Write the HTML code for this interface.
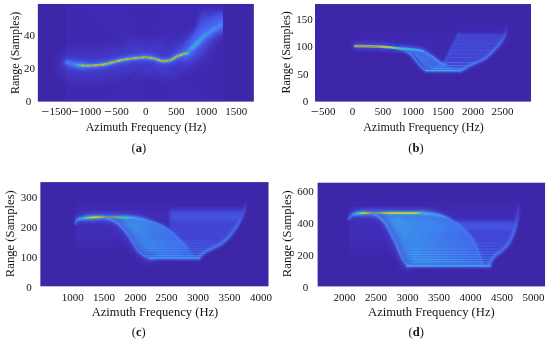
<!DOCTYPE html>
<html lang="en"><head><meta charset="utf-8"><title>Range vs Azimuth Frequency</title>
<style>
html,body{margin:0;padding:0;background:#fff;}
body{width:550px;height:344px;overflow:hidden;position:relative;}
svg{position:absolute;left:0;top:0;display:block;}
text{font-family:"Liberation Serif",serif;fill:#141414;}
</style></head><body>
<svg width="550" height="344" viewBox="0 0 550 344">
<defs>
<filter id="b05" filterUnits="userSpaceOnUse" x="0" y="0" width="550" height="344"><feGaussianBlur stdDeviation="0.5"/></filter>
<filter id="b1" filterUnits="userSpaceOnUse" x="0" y="0" width="550" height="344"><feGaussianBlur stdDeviation="1"/></filter>
<filter id="b2" filterUnits="userSpaceOnUse" x="0" y="0" width="550" height="344"><feGaussianBlur stdDeviation="2"/></filter>
<filter id="b3" filterUnits="userSpaceOnUse" x="0" y="0" width="550" height="344"><feGaussianBlur stdDeviation="3"/></filter>
<filter id="b5" filterUnits="userSpaceOnUse" x="0" y="0" width="550" height="344"><feGaussianBlur stdDeviation="5"/></filter>
<clipPath id="ca"><rect x="37.85" y="3.96" width="216" height="97.65"/></clipPath>
<clipPath id="cb"><rect x="315" y="4.05" width="216" height="97.55"/></clipPath>
<clipPath id="cc"><rect x="40.35" y="182.1" width="228.15" height="104.2"/></clipPath>
<clipPath id="cd"><rect x="317.6" y="182.7" width="227.45" height="103.7"/></clipPath>

<linearGradient id="gtail" gradientUnits="userSpaceOnUse" x1="0" y1="54" x2="0" y2="8"><stop offset="0" stop-color="#4a78f8" stop-opacity="1"/><stop offset="0.6" stop-color="#4a6cf8" stop-opacity="0.8"/><stop offset="1" stop-color="#4a50e8" stop-opacity="0.15"/></linearGradient>
<linearGradient id="gtail2" gradientUnits="userSpaceOnUse" x1="186" y1="0" x2="223" y2="0"><stop offset="0" stop-color="#38c8c0" stop-opacity="1"/><stop offset="0.3" stop-color="#3cb0e8" stop-opacity="0.95"/><stop offset="1" stop-color="#4888f8" stop-opacity="0.7"/></linearGradient>
<linearGradient id="gbm" gradientUnits="userSpaceOnUse" x1="355" y1="0" x2="423" y2="0"><stop offset="0" stop-color="#30c0b0"/><stop offset="0.6" stop-color="#30c0c0"/><stop offset="0.8" stop-color="#3ca8e8"/><stop offset="1" stop-color="#4490f4"/></linearGradient>
<linearGradient id="gbm2" gradientUnits="userSpaceOnUse" x1="355" y1="0" x2="423" y2="0"><stop offset="0" stop-color="#d0c840"/><stop offset="0.45" stop-color="#b8d048"/><stop offset="0.6" stop-color="#50c890"/><stop offset="0.75" stop-color="#38b4d8"/><stop offset="1" stop-color="#4498f4"/></linearGradient>
<linearGradient id="gbm3" gradientUnits="userSpaceOnUse" x1="355" y1="0" x2="423" y2="0"><stop offset="0" stop-color="#f0541c"/><stop offset="0.3" stop-color="#f0681c"/><stop offset="0.42" stop-color="#f0a828"/><stop offset="0.52" stop-color="#c0d040"/><stop offset="0.64" stop-color="#48c8a0"/><stop offset="0.78" stop-color="#38b4d8"/><stop offset="1" stop-color="#4498f4"/></linearGradient>
<linearGradient id="gbu" gradientUnits="userSpaceOnUse" x1="400" y1="0" x2="450" y2="0"><stop offset="0" stop-color="#40b8e0"/><stop offset="0.4" stop-color="#409cf0"/><stop offset="1" stop-color="#4880f8"/></linearGradient>
<linearGradient id="gcm" gradientUnits="userSpaceOnUse" x1="78" y1="0" x2="156" y2="0"><stop offset="0" stop-color="#3c98f0" stop-opacity="0.6"/><stop offset="0.08" stop-color="#38b0e0"/><stop offset="0.18" stop-color="#30c0b0"/><stop offset="0.5" stop-color="#30c0b8"/><stop offset="0.65" stop-color="#38b0e0"/><stop offset="0.8" stop-color="#4098f0" stop-opacity="0.8"/><stop offset="1" stop-color="#4888f8" stop-opacity="0"/></linearGradient>
<linearGradient id="gcm2" gradientUnits="userSpaceOnUse" x1="78" y1="0" x2="156" y2="0"><stop offset="0" stop-color="#3c98f0" stop-opacity="0.3"/><stop offset="0.08" stop-color="#40b8d0"/><stop offset="0.15" stop-color="#70cc70"/><stop offset="0.2" stop-color="#c8d040"/><stop offset="0.46" stop-color="#b8d048"/><stop offset="0.54" stop-color="#60cc80"/><stop offset="0.64" stop-color="#38b8d0"/><stop offset="0.78" stop-color="#40a0f0" stop-opacity="0.8"/><stop offset="1" stop-color="#4888f8" stop-opacity="0"/></linearGradient>
<linearGradient id="gcm3" gradientUnits="userSpaceOnUse" x1="78" y1="0" x2="156" y2="0"><stop offset="0" stop-color="#3c98f0" stop-opacity="0"/><stop offset="0.1" stop-color="#50c0a0"/><stop offset="0.17" stop-color="#d8cc38"/><stop offset="0.22" stop-color="#f0b028"/><stop offset="0.4" stop-color="#f0b830"/><stop offset="0.47" stop-color="#c0d040"/><stop offset="0.54" stop-color="#60cc80"/><stop offset="0.64" stop-color="#38b8d0"/><stop offset="0.78" stop-color="#40a0f0" stop-opacity="0.7"/><stop offset="1" stop-color="#4888f8" stop-opacity="0"/></linearGradient>
<linearGradient id="gcu" gradientUnits="userSpaceOnUse" x1="106" y1="0" x2="190" y2="0"><stop offset="0" stop-color="#40c0c8"/><stop offset="0.4" stop-color="#40a0f0"/><stop offset="1" stop-color="#4880f8"/></linearGradient>
<linearGradient id="gcfan" gradientUnits="userSpaceOnUse" x1="108" y1="216" x2="190" y2="258"><stop offset="0" stop-color="#38bcec"/><stop offset="0.3" stop-color="#3c9cf2"/><stop offset="0.65" stop-color="#407cf0"/><stop offset="1" stop-color="#4464ea"/></linearGradient>
<linearGradient id="gdm" gradientUnits="userSpaceOnUse" x1="353" y1="0" x2="454" y2="0"><stop offset="0" stop-color="#3c98f0" stop-opacity="0.6"/><stop offset="0.05" stop-color="#38b0e0"/><stop offset="0.1" stop-color="#30c0b0"/><stop offset="0.66" stop-color="#30c0b8"/><stop offset="0.74" stop-color="#38b0e0"/><stop offset="0.85" stop-color="#4098f0" stop-opacity="0.8"/><stop offset="1" stop-color="#4888f8" stop-opacity="0"/></linearGradient>
<linearGradient id="gdm2" gradientUnits="userSpaceOnUse" x1="353" y1="0" x2="454" y2="0"><stop offset="0" stop-color="#3c98f0" stop-opacity="0.3"/><stop offset="0.05" stop-color="#40b8d0"/><stop offset="0.08" stop-color="#70cc70"/><stop offset="0.11" stop-color="#c8d040"/><stop offset="0.6" stop-color="#b8d048"/><stop offset="0.67" stop-color="#60cc80"/><stop offset="0.74" stop-color="#38b8d0"/><stop offset="0.85" stop-color="#40a0f0" stop-opacity="0.8"/><stop offset="1" stop-color="#4888f8" stop-opacity="0"/></linearGradient>
<linearGradient id="gdm3" gradientUnits="userSpaceOnUse" x1="353" y1="0" x2="454" y2="0"><stop offset="0" stop-color="#3c98f0" stop-opacity="0"/><stop offset="0.06" stop-color="#50c0a0"/><stop offset="0.1" stop-color="#d8cc38"/><stop offset="0.13" stop-color="#f0b028"/><stop offset="0.55" stop-color="#f0b830"/><stop offset="0.62" stop-color="#c0d040"/><stop offset="0.68" stop-color="#60cc80"/><stop offset="0.75" stop-color="#38b8d0"/><stop offset="0.86" stop-color="#40a0f0" stop-opacity="0.7"/><stop offset="1" stop-color="#4888f8" stop-opacity="0"/></linearGradient>
<linearGradient id="gdu" gradientUnits="userSpaceOnUse" x1="372" y1="0" x2="480" y2="0"><stop offset="0" stop-color="#40c0c8"/><stop offset="0.5" stop-color="#40a8e8"/><stop offset="1" stop-color="#4888f8"/></linearGradient>
<linearGradient id="gdfan" gradientUnits="userSpaceOnUse" x1="374" y1="212" x2="480" y2="266"><stop offset="0" stop-color="#38bcec"/><stop offset="0.3" stop-color="#3c9cf2"/><stop offset="0.65" stop-color="#407cf0"/><stop offset="1" stop-color="#4464ea"/></linearGradient>

<linearGradient id="gchalo" gradientUnits="userSpaceOnUse" x1="0" y1="196" x2="0" y2="258"><stop offset="0" stop-color="#4232c8" stop-opacity="0"/><stop offset="0.3" stop-color="#4232c8" stop-opacity="0.3"/><stop offset="1" stop-color="#4232c8" stop-opacity="0.4"/></linearGradient>
<linearGradient id="gcright" gradientUnits="userSpaceOnUse" x1="0" y1="258" x2="0" y2="198"><stop offset="0" stop-color="#4a84f8" stop-opacity="1"/><stop offset="0.55" stop-color="#4a74f8" stop-opacity="0.9"/><stop offset="0.85" stop-color="#4a60f0" stop-opacity="0.4"/><stop offset="1" stop-color="#4a50e8" stop-opacity="0"/></linearGradient>
<linearGradient id="gcstripe" gradientUnits="userSpaceOnUse" x1="133" y1="0" x2="226" y2="0"><stop offset="0" stop-color="#38b0e8"/><stop offset="0.6" stop-color="#4090f0"/><stop offset="1" stop-color="#4a70f0"/></linearGradient>

<linearGradient id="gdhalo" gradientUnits="userSpaceOnUse" x1="0" y1="197" x2="0" y2="266"><stop offset="0" stop-color="#4232c8" stop-opacity="0"/><stop offset="0.3" stop-color="#4232c8" stop-opacity="0.3"/><stop offset="1" stop-color="#4232c8" stop-opacity="0.4"/></linearGradient>
<linearGradient id="gdright" gradientUnits="userSpaceOnUse" x1="0" y1="266" x2="0" y2="198"><stop offset="0" stop-color="#4a84f8" stop-opacity="1"/><stop offset="0.55" stop-color="#4a74f8" stop-opacity="0.9"/><stop offset="0.85" stop-color="#4a60f0" stop-opacity="0.4"/><stop offset="1" stop-color="#4a50e8" stop-opacity="0"/></linearGradient>
<linearGradient id="gdstripe" gradientUnits="userSpaceOnUse" x1="396" y1="0" x2="508" y2="0"><stop offset="0" stop-color="#38b8e0"/><stop offset="0.7" stop-color="#3c98f0"/><stop offset="1" stop-color="#4a70f0"/></linearGradient>

<clipPath id="catail"><rect x="38" y="4" width="185" height="97.5"/></clipPath>
<linearGradient id="gplume" gradientUnits="userSpaceOnUse" x1="0" y1="42" x2="0" y2="7"><stop offset="0" stop-color="#4a68f4" stop-opacity="0.8"/><stop offset="0.6" stop-color="#4a60f0" stop-opacity="0.7"/><stop offset="0.85" stop-color="#4a54ea" stop-opacity="0.35"/><stop offset="1" stop-color="#4a50e8" stop-opacity="0"/></linearGradient>

<linearGradient id="gbright" gradientUnits="userSpaceOnUse" x1="0" y1="72" x2="0" y2="24"><stop offset="0" stop-color="#4a88f8" stop-opacity="1"/><stop offset="0.6" stop-color="#4a78f8" stop-opacity="0.9"/><stop offset="0.85" stop-color="#4a60f0" stop-opacity="0.45"/><stop offset="1" stop-color="#4a50e8" stop-opacity="0"/></linearGradient>
<linearGradient id="gbfan" gradientUnits="userSpaceOnUse" x1="398" y1="0" x2="458" y2="0"><stop offset="0" stop-color="#38a8e8"/><stop offset="0.4" stop-color="#4084f0"/><stop offset="1" stop-color="#4464ec"/></linearGradient>

<linearGradient id="gbf2" gradientUnits="userSpaceOnUse" x1="433" y1="0" x2="464" y2="0"><stop offset="0" stop-color="#38c0c0"/><stop offset="0.3" stop-color="#48c8a0"/><stop offset="0.55" stop-color="#38b0e0"/><stop offset="1" stop-color="#4488f8"/></linearGradient>
<linearGradient id="gcglow" gradientUnits="userSpaceOnUse" x1="78" y1="0" x2="156" y2="0"><stop offset="0" stop-color="#4a5cf0" stop-opacity="0.4"/><stop offset="0.15" stop-color="#4a64f4" stop-opacity="1"/><stop offset="0.6" stop-color="#4a64f4" stop-opacity="0.9"/><stop offset="1" stop-color="#4a5cf0" stop-opacity="0"/></linearGradient>
<linearGradient id="gdglow" gradientUnits="userSpaceOnUse" x1="353" y1="0" x2="454" y2="0"><stop offset="0" stop-color="#4a5cf0" stop-opacity="0.4"/><stop offset="0.1" stop-color="#4a64f4" stop-opacity="1"/><stop offset="0.75" stop-color="#4a64f4" stop-opacity="0.9"/><stop offset="1" stop-color="#4a5cf0" stop-opacity="0"/></linearGradient>
<linearGradient id="gam_b" gradientUnits="userSpaceOnUse" x1="73" y1="0" x2="190" y2="0"><stop offset="0" stop-color="#3f8ff5" stop-opacity="0.3"/><stop offset="0.06" stop-color="#3f8ff5" stop-opacity="1"/><stop offset="1" stop-color="#3f8ff5" stop-opacity="1"/></linearGradient>
<linearGradient id="gam_c" gradientUnits="userSpaceOnUse" x1="73" y1="0" x2="190" y2="0"><stop offset="0" stop-color="#30b0d8" stop-opacity="0"/><stop offset="0.04" stop-color="#30b8c8" stop-opacity="0.7"/><stop offset="0.08" stop-color="#30c0b0" stop-opacity="1"/><stop offset="0.95" stop-color="#30c0b0" stop-opacity="1"/><stop offset="1" stop-color="#30c0c0" stop-opacity="0.7"/></linearGradient>
<linearGradient id="gam_g" gradientUnits="userSpaceOnUse" x1="73" y1="0" x2="190" y2="0"><stop offset="0" stop-color="#60c890" stop-opacity="0"/><stop offset="0.05" stop-color="#60c890" stop-opacity="0.3"/><stop offset="0.09" stop-color="#b8d440" stop-opacity="1"/><stop offset="0.95" stop-color="#b8d440" stop-opacity="1"/><stop offset="1" stop-color="#60c890" stop-opacity="0.4"/></linearGradient>
<linearGradient id="gam_o" gradientUnits="userSpaceOnUse" x1="73" y1="0" x2="190" y2="0"><stop offset="0" stop-color="#f0701c" stop-opacity="0"/><stop offset="0.07" stop-color="#f0701c" stop-opacity="0"/><stop offset="0.11" stop-color="#f0701c" stop-opacity="1"/><stop offset="0.94" stop-color="#f0701c" stop-opacity="1"/><stop offset="1" stop-color="#f0701c" stop-opacity="0"/></linearGradient>
<linearGradient id="gchalo2" gradientUnits="userSpaceOnUse" x1="0" y1="198" x2="0" y2="256"><stop offset="0" stop-color="#4434cc" stop-opacity="0"/><stop offset="0.3" stop-color="#4434cc" stop-opacity="0.42"/><stop offset="0.65" stop-color="#4434cc" stop-opacity="0.42"/><stop offset="1" stop-color="#4434cc" stop-opacity="0"/></linearGradient>
<linearGradient id="gdhalo2" gradientUnits="userSpaceOnUse" x1="0" y1="199" x2="0" y2="262"><stop offset="0" stop-color="#4434cc" stop-opacity="0"/><stop offset="0.3" stop-color="#4434cc" stop-opacity="0.42"/><stop offset="0.65" stop-color="#4434cc" stop-opacity="0.42"/><stop offset="1" stop-color="#4434cc" stop-opacity="0"/></linearGradient>
<linearGradient id="gcreg" gradientUnits="userSpaceOnUse" x1="0" y1="206" x2="0" y2="258"><stop offset="0" stop-color="#4456e8" stop-opacity="0"/><stop offset="0.12" stop-color="#4456e8" stop-opacity="1"/><stop offset="1" stop-color="#4456e8" stop-opacity="1"/></linearGradient>
<linearGradient id="gdreg" gradientUnits="userSpaceOnUse" x1="0" y1="218" x2="0" y2="266"><stop offset="0" stop-color="#4456e8" stop-opacity="0"/><stop offset="0.12" stop-color="#4456e8" stop-opacity="1"/><stop offset="1" stop-color="#4456e8" stop-opacity="1"/></linearGradient>
</defs>
<rect width="550" height="344" fill="#fff"/>

<rect x="37.85" y="3.96" width="216" height="97.65" fill="#3e26a8"/>
<g clip-path="url(#ca)">
<rect x="66" y="4" width="157" height="98" fill="#4232c4" opacity="0.33"/>
<path d="M73,64.4 C76,65 79,65.4 82,65.5 C90,65.8 98,65.6 104,64.5 C112,63 116,61 122,60 C130,58.5 138,57.3 146,57.3 C152,57.3 156,59 160,60.5 C164,61.5 168,61 171,60 C175,57 178,55.5 182,54.5 L188,53 L196,46" fill="none" stroke="#4a50e8" stroke-width="30" stroke-linecap="round" stroke-linejoin="round" opacity="0.4" filter="url(#b5)"/>
<path d="M123,4 L143.6,54.5 Q146,51.5 148.4,54.5 L169,4 M116,4 L141.1,53.0 Q146,46.0 150.9,53.0 L176,4 M109,4 L138.7,51.5 Q146,40.5 153.3,51.5 L183,4 M102,4 L136.2,50.0 Q146,35.0 155.8,50.0 L190,4 M95,4 L133.8,48.5 Q146,29.5 158.2,48.5 L197,4 M88,4 L131.3,47.0 Q146,24.0 160.7,47.0 L204,4 M135,101 L153.2,65.5 Q156,67.0 158.8,65.5 L177,101 M128,101 L150.4,67.0 Q156,72.0 161.6,67.0 L184,101 M121,101 L147.6,68.5 Q156,77.0 164.4,68.5 L191,101 M114,101 L144.8,70.0 Q156,82.0 167.2,70.0 L198,101 M107,101 L142.0,71.5 Q156,87.0 170.0,71.5 L205,101" fill="none" stroke="#4c48dc" stroke-width="1.6" opacity="0.22" filter="url(#b1)"/>
<path d="M67,62.5 C72,64 77,65.2 84,65.5" fill="none" stroke="#4a6cf8" stroke-width="7" stroke-linecap="round" stroke-linejoin="round" opacity="0.7" filter="url(#b2)"/>
<path d="M67,62.5 C72,64 77,65.2 84,65.5" fill="none" stroke="#38a8e8" stroke-width="3" stroke-linecap="round" stroke-linejoin="round" opacity="0.8" filter="url(#b1)"/>
<g clip-path="url(#catail)">
<path d="M190,46 L197,28 L201,9 L224,7 L224,27 L212,33 Z" fill="url(#gplume)" filter="url(#b2)"/>
<path d="M191,45 C196,39 201,33 207,27.5 C212,23.5 217,20 223,16" fill="none" stroke="#4a68f4" stroke-width="8" stroke-linecap="round" stroke-linejoin="round" opacity="0.5" filter="url(#b2)"/>
<path d="M186,53.5 C192,49 198,42 204.6,35.6 C210,31.5 215,28.5 223,23.5" fill="none" stroke="#4a5cf0" stroke-width="18" stroke-linecap="round" stroke-linejoin="round" opacity="0.65" filter="url(#b3)"/>
<path d="M186,53.5 C192,49 198,42 204.6,35.6 C210,31.5 215,28.5 223,23.5" fill="none" stroke="#4a74f8" stroke-width="9" stroke-linecap="round" stroke-linejoin="round" opacity="0.7" filter="url(#b2)"/>
<path d="M186,53.5 C192,49 198,42 204.6,35.6 C210,31.5 215,28.5 223,23.5" fill="none" stroke="url(#gtail2)" stroke-width="3.6" stroke-linecap="round" stroke-linejoin="round" opacity="0.9" filter="url(#b1)"/>
</g>
<path d="M73,64.4 C76,65 79,65.4 82,65.5 C90,65.8 98,65.6 104,64.5 C112,63 116,61 122,60 C130,58.5 138,57.3 146,57.3 C152,57.3 156,59 160,60.5 C164,61.5 168,61 171,60 C175,57 178,55.5 182,54.5 L188,53" fill="none" stroke="#4a5cf0" stroke-width="8" stroke-linecap="round" stroke-linejoin="round" opacity="0.7" filter="url(#b2)"/>
<path d="M73,64.4 C76,65 79,65.4 82,65.5 C90,65.8 98,65.6 104,64.5 C112,63 116,61 122,60 C130,58.5 138,57.3 146,57.3 C152,57.3 156,59 160,60.5 C164,61.5 168,61 171,60 C175,57 178,55.5 182,54.5 L188,53" fill="none" stroke="url(#gam_b)" stroke-width="4" stroke-linecap="round" stroke-linejoin="round" opacity="0.85" filter="url(#b1)"/>
<path d="M73,64.4 C76,65 79,65.4 82,65.5 C90,65.8 98,65.6 104,64.5 C112,63 116,61 122,60 C130,58.5 138,57.3 146,57.3 C152,57.3 156,59 160,60.5 C164,61.5 168,61 171,60 C175,57 178,55.5 182,54.5 L188,53" fill="none" stroke="url(#gam_c)" stroke-width="2.4" stroke-linecap="round" stroke-linejoin="round" opacity="0.9" filter="url(#b05)"/>
<path d="M73,64.4 C76,65 79,65.4 82,65.5 C90,65.8 98,65.6 104,64.5 C112,63 116,61 122,60 C130,58.5 138,57.3 146,57.3 C152,57.3 156,59 160,60.5 C164,61.5 168,61 171,60 C175,57 178,55.5 182,54.5 L188,53" fill="none" stroke="url(#gam_g)" stroke-width="1.3" stroke-linecap="round" stroke-linejoin="round" opacity="1" filter="url(#b05)"/>
<path d="M73,64.4 C76,65 79,65.4 82,65.5 C90,65.8 98,65.6 104,64.5 C112,63 116,61 122,60 C130,58.5 138,57.3 146,57.3 C152,57.3 156,59 160,60.5 C164,61.5 168,61 171,60 C175,57 178,55.5 182,54.5 L188,53" fill="none" stroke="url(#gam_o)" stroke-width="0.9" stroke-dasharray="5.5 2.5" stroke-linecap="round"/>
</g>
<rect x="315" y="4.05" width="216" height="97.55" fill="#3e26a8"/>
<g clip-path="url(#cb)">
<path d="M356,44 L356,30 L459,28 L463,24 L507,24 L507,44 L480,64 L460,74 L428,74 L412,60 L400,52 Z" fill="#4232c8" opacity="0.25" filter="url(#b3)"/>
<path d="M444,62.6 L458.7,33.5 L505.6,33.5 L505.8,30.5 C505.7,32 505.5,34 505,35.7 C504.5,37 503.6,38.5 502.4,40 C501.5,41.4 500.3,42.8 498.9,44.4 C497.3,46.5 495.5,48.5 493.6,50.5 C491.8,52.7 489.8,54.7 487.5,56.6 C485.5,58.2 483.5,59.5 481.4,60.5 C479,61.5 477,62.3 474.4,63.3 C472,64.3 470,65.3 467.5,66.8 C465.5,68 463,69.2 460.5,70.6 L430,70.8 L436,64 Z" fill="#4454e6" opacity="0.6" filter="url(#b1)"/>
<path d="M398,48 C408,48.6 414,49.4 419,50.3 C423,51.3 425.5,52.5 427.8,53.9 C430.5,55.5 433,57.3 435,59 C437,60.5 439,62 441,63.4 L445.3,64.8 L458,70.8 L430,70.8 C426,70 423,67 420,62.6 C415,56 410,51 398,48 Z" fill="url(#gbfan)" opacity="0.8" filter="url(#b1)"/>
<path d="M457.2,36.5 L504.5,36.5" stroke="#4a80f8" stroke-width="1" opacity="0.12" fill="none" filter="url(#b05)"/>
<path d="M455.4,40 L502.0,40" stroke="#4a80f8" stroke-width="1" opacity="0.15" fill="none" filter="url(#b05)"/>
<path d="M453.6,43.5 L499.3,43.5" stroke="#4a80f8" stroke-width="1" opacity="0.18" fill="none" filter="url(#b05)"/>
<path d="M451.9,47 L496.3,47" stroke="#4a80f8" stroke-width="1" opacity="0.21" fill="none" filter="url(#b05)"/>
<path d="M450.1,50.5 L493.3,50.5" stroke="#4a80f8" stroke-width="1" opacity="0.24" fill="none" filter="url(#b05)"/>
<path d="M448.3,54 L490.0,54" stroke="#4a80f8" stroke-width="1" opacity="0.27" fill="none" filter="url(#b05)"/>
<path d="M446.6,57.5 L486.0,57.5" stroke="#4a80f8" stroke-width="1" opacity="0.30" fill="none" filter="url(#b05)"/>
<path d="M444.5,62 L458.7,33.8" fill="none" stroke="#4a6cf8" stroke-width="2.2" stroke-linecap="round" stroke-linejoin="round" opacity="0.45" filter="url(#b1)"/>
<path d="M439.5,62.6 L476,62.6" fill="none" stroke="#4a7cf8" stroke-width="1.2" stroke-linecap="round" stroke-linejoin="round" opacity="0.6" filter="url(#b05)"/>
<path d="M438,65.5 L470,65.5" fill="none" stroke="#4488f8" stroke-width="1.2" stroke-linecap="round" stroke-linejoin="round" opacity="0.7" filter="url(#b05)"/>
<path d="M433.6,68.2 L464,68.2" fill="none" stroke="#4a6cf8" stroke-width="2.5" stroke-linecap="round" stroke-linejoin="round" opacity="0.6" filter="url(#b1)"/>
<path d="M433.6,68.2 L464,68.2" fill="none" stroke="url(#gbf2)" stroke-width="1.1" stroke-linecap="round" stroke-linejoin="round" opacity="0.85" filter="url(#b05)"/>
<path d="M400,48.5 C408,48.9 414,49.5 419,50.3 C423,51.3 425.5,52.5 427.8,53.9 C430.5,55.5 433,57.3 435,59 C437,60.5 439,62 441,63.4 L445.3,64.8" fill="none" stroke="#4a74f8" stroke-width="4.2" stroke-linecap="round" stroke-linejoin="round" opacity="0.65" filter="url(#b1)"/>
<path d="M400,48.5 C408,48.9 414,49.5 419,50.3 C423,51.3 425.5,52.5 427.8,53.9 C430.5,55.5 433,57.3 435,59 C437,60.5 439,62 441,63.4 L445.3,64.8" fill="none" stroke="url(#gbu)" stroke-width="1.6" stroke-linecap="round" stroke-linejoin="round" opacity="0.85" filter="url(#b05)"/>
<path d="M400,48.5 C406,50 409,52.5 411.8,55.4 C414,58 416,60.3 417.6,62.6 C419.2,64.8 420.5,66.3 422,67.7 C423.5,69 425,69.8 426.4,70.2" fill="none" stroke="#4a6cf8" stroke-width="3.5" stroke-linecap="round" stroke-linejoin="round" opacity="0.6" filter="url(#b1)"/>
<path d="M400,48.5 C406,50 409,52.5 411.8,55.4 C414,58 416,60.3 417.6,62.6 C419.2,64.8 420.5,66.3 422,67.7 C423.5,69 425,69.8 426.4,70.2" fill="none" stroke="url(#gbu)" stroke-width="1.3" stroke-linecap="round" stroke-linejoin="round" opacity="0.7" filter="url(#b05)"/>
<path d="M460.5,70.6 C463,69.2 465.5,68 467.5,66.8 C470,65.3 472,64.3 474.4,63.3 C477,62.3 479,61.5 481.4,60.5 C483.5,59.5 485.5,58.2 487.5,56.6 C489.8,54.7 491.8,52.7 493.6,50.5 C495.5,48.5 497.3,46.5 498.9,44.4 C500.3,42.8 501.5,41.4 502.4,40 C503.6,38.5 504.5,37 505,35.7 C505.5,34 505.7,32 505.8,30.5 L506,24" fill="none" stroke="url(#gbright)" stroke-width="3.5" stroke-linecap="round" stroke-linejoin="round" opacity="0.65" filter="url(#b1)"/>
<path d="M460.5,70.6 C463,69.2 465.5,68 467.5,66.8 C470,65.3 472,64.3 474.4,63.3 C477,62.3 479,61.5 481.4,60.5 C483.5,59.5 485.5,58.2 487.5,56.6 C489.8,54.7 491.8,52.7 493.6,50.5 C495.5,48.5 497.3,46.5 498.9,44.4 C500.3,42.8 501.5,41.4 502.4,40 C503.6,38.5 504.5,37 505,35.7 C505.5,34 505.7,32 505.8,30.5 L506,24" fill="none" stroke="url(#gbright)" stroke-width="1.3" stroke-linecap="round" stroke-linejoin="round" opacity="0.75" filter="url(#b05)"/>
<path d="M426,70.7 L460,70.7" fill="none" stroke="#4a6cf8" stroke-width="3.2" stroke-linecap="round" stroke-linejoin="round" opacity="0.8" filter="url(#b1)"/>
<path d="M426,70.7 L460,70.7" fill="none" stroke="#34b8e0" stroke-width="1.3" stroke-linecap="round" stroke-linejoin="round" opacity="0.95" filter="url(#b05)"/>
<path d="M355,46.1 C370,46 385,46.5 400,48.5 C408,48.9 414,49.5 419,50.3 L423,51.3" fill="none" stroke="#4a5cf0" stroke-width="6" stroke-linecap="round" stroke-linejoin="round" opacity="0.7" filter="url(#b2)"/>
<path d="M355,46.1 C370,46 385,46.5 400,48.5 C408,48.9 414,49.5 419,50.3 L423,51.3" fill="none" stroke="url(#gbm)" stroke-width="2.6" stroke-linecap="round" stroke-linejoin="round" opacity="0.9" filter="url(#b05)"/>
<path d="M355,46.1 C370,46 385,46.5 400,48.5 C408,48.9 414,49.5 419,50.3 L423,51.3" fill="none" stroke="url(#gbm2)" stroke-width="1.5" stroke-linecap="round" stroke-linejoin="round" opacity="1" filter="url(#b05)"/>
<path d="M355,46.1 C370,46 385,46.5 400,48.5 C408,48.9 414,49.5 419,50.3 L423,51.3" fill="none" stroke="url(#gbm3)" stroke-width="0.95" stroke-linecap="round" stroke-linejoin="round" opacity="1"/>
</g>
<rect x="40.35" y="182.1" width="228.15" height="104.2" fill="#3e26a8"/>
<g clip-path="url(#cc)">
<path d="M75.3,197 L245.5,197 L245.5,203 C245.3,207 244,213 241.5,217.5 C239.5,222 236,228 232,233 C228,238 225,241 221.8,243.4 C218,246 213,248 209,249.8 C206,251.2 203.5,253 201.4,254.9 C200.3,256 199.5,257 198.9,258 L150,258 L75.3,258 Z" fill="url(#gchalo2)" filter="url(#b05)"/>
<path d="M169.5,206 L245.4,206 C245.3,207 244,213 241.5,217.5 C239.5,222 236,228 232,233 C228,238 225,241 221.8,243.4 C218,246 213,248 209,249.8 C206,251.2 203.5,253 201.4,254.9 C200.3,256 199.5,257 198.9,258 L150,258 L150,243 L169.5,236 Z" fill="url(#gcreg)" opacity="0.6" filter="url(#b1)"/>
<path d="M171,216.5 L240,216.5" stroke="#4a62f2" stroke-width="7" opacity="0.55" fill="none" filter="url(#b2)"/>
<path d="M106,218 C125,217.2 140,218.8 153.8,222.2 C162,225 169,228.7 175,235 C180,240 184,244 186,247 L198,258 L150,258 C143,255.5 137,249 130,237.5 C125,229 120,223 106,218 Z" fill="url(#gcfan)" opacity="0.88" filter="url(#b1)"/>
<path d="M133.0,241 L226.0,241" stroke="url(#gcstripe)" stroke-width="1" opacity="0.30" fill="none" filter="url(#b05)"/>
<path d="M134.8,243.4 L221.8,243.4" stroke="url(#gcstripe)" stroke-width="1" opacity="0.39" fill="none" filter="url(#b05)"/>
<path d="M136.6,245.8 L217.6,245.8" stroke="url(#gcstripe)" stroke-width="1" opacity="0.48" fill="none" filter="url(#b05)"/>
<path d="M138.4,248.2 L213.4,248.2" stroke="url(#gcstripe)" stroke-width="1" opacity="0.57" fill="none" filter="url(#b05)"/>
<path d="M140.2,250.6 L209.2,250.6" stroke="url(#gcstripe)" stroke-width="1" opacity="0.66" fill="none" filter="url(#b05)"/>
<path d="M142.0,253 L205.0,253" stroke="url(#gcstripe)" stroke-width="1" opacity="0.75" fill="none" filter="url(#b05)"/>
<path d="M143.8,255.4 L200.8,255.4" stroke="url(#gcstripe)" stroke-width="1" opacity="0.84" fill="none" filter="url(#b05)"/>
<path d="M78,219.2 C84,217.8 92,217.2 100,217.2 C110,217.2 122,217.4 132,217.8 C142,219 150,221 156,223" fill="none" stroke="url(#gcglow)" stroke-width="8" stroke-linecap="round" stroke-linejoin="round" opacity="0.8" filter="url(#b2)"/>
<path d="M75.5,224 C75.8,221 77,219.3 80,218.6" fill="none" stroke="#4a7cf8" stroke-width="2.5" stroke-linecap="round" stroke-linejoin="round" opacity="0.6" filter="url(#b1)"/>
<path d="M75.5,224 C75.8,221 77,219.3 80,218.6" fill="none" stroke="#40a0e8" stroke-width="1.1" stroke-linecap="round" stroke-linejoin="round" opacity="0.5" filter="url(#b05)"/>
<path d="M78,219.2 C84,217.8 92,217.2 100,217.2 C110,217.2 122,217.4 132,217.8 C142,219 150,221 156,223" fill="none" stroke="url(#gcm)" stroke-width="3.4" stroke-linecap="round" stroke-linejoin="round" opacity="0.95" filter="url(#b1)"/>
<path d="M78,219.2 C84,217.8 92,217.2 100,217.2 C110,217.2 122,217.4 132,217.8 C142,219 150,221 156,223" fill="none" stroke="url(#gcm2)" stroke-width="1.8" stroke-linecap="round" stroke-linejoin="round" opacity="1" filter="url(#b05)"/>
<path d="M78,219.2 C84,217.8 92,217.2 100,217.2 C110,217.2 122,217.4 132,217.8 C142,219 150,221 156,223" fill="none" stroke="url(#gcm3)" stroke-width="0.9" stroke-linecap="round" stroke-linejoin="round" opacity="1" filter="url(#b05)"/>
<path d="M132,217.8 C142,219 150,221 156,223 C164,226 170,230 175,235.5 C180,240.5 184,244 187,247.5" fill="none" stroke="#4a7cf8" stroke-width="3.2" stroke-linecap="round" stroke-linejoin="round" opacity="0.55" filter="url(#b1)"/>
<path d="M132,217.8 C142,219 150,221 156,223 C164,226 170,230 175,235.5 C180,240.5 184,244 187,247.5" fill="none" stroke="url(#gcu)" stroke-width="1.3" stroke-linecap="round" stroke-linejoin="round" opacity="0.5" filter="url(#b05)"/>
<path d="M106,217.8 C114,220 118,223 121,226.5 C125,231 127,233.5 129.8,237.5 C132,242 134,245 136.4,248.4 C139,252 141,254 143,255 C146,257.5 148,258.2 152,258.2" fill="none" stroke="#4840d8" stroke-width="10" stroke-linecap="round" stroke-linejoin="round" opacity="0.55" filter="url(#b3)"/>
<path d="M106,217.8 C114,220 118,223 121,226.5 C125,231 127,233.5 129.8,237.5 C132,242 134,245 136.4,248.4 C139,252 141,254 143,255 C146,257.5 148,258.2 152,258.2" fill="none" stroke="#4a7cf8" stroke-width="3.4" stroke-linecap="round" stroke-linejoin="round" opacity="0.6" filter="url(#b1)"/>
<path d="M106,217.8 C114,220 118,223 121,226.5 C125,231 127,233.5 129.8,237.5 C132,242 134,245 136.4,248.4 C139,252 141,254 143,255 C146,257.5 148,258.2 152,258.2" fill="none" stroke="url(#gcu)" stroke-width="1.3" stroke-linecap="round" stroke-linejoin="round" opacity="0.45" filter="url(#b05)"/>
<path d="M150,258 L198,258" fill="none" stroke="#4a7cf8" stroke-width="3.4" stroke-linecap="round" stroke-linejoin="round" opacity="0.8" filter="url(#b1)"/>
<path d="M150,258 L198,258" fill="none" stroke="#3ca0f0" stroke-width="1.3" stroke-linecap="round" stroke-linejoin="round" opacity="0.85" filter="url(#b05)"/>
<path d="M245.5,196 L245.5,203 C245.3,207 244,213 241.5,217.5 C239.5,222 236,228 232,233 C228,238 225,241 221.8,243.4 C218,246 213,248 209,249.8 C206,251.2 203.5,253 201.4,254.9 C200.3,256 199.5,257 198.9,258" fill="none" stroke="url(#gcright)" stroke-width="4" stroke-linecap="round" stroke-linejoin="round" opacity="0.7" filter="url(#b1)"/>
<path d="M245.5,196 L245.5,203 C245.3,207 244,213 241.5,217.5 C239.5,222 236,228 232,233 C228,238 225,241 221.8,243.4 C218,246 213,248 209,249.8 C206,251.2 203.5,253 201.4,254.9 C200.3,256 199.5,257 198.9,258" fill="none" stroke="url(#gcright)" stroke-width="1.3" stroke-linecap="round" stroke-linejoin="round" opacity="0.55" filter="url(#b05)"/>
</g>
<rect x="317.6" y="182.7" width="227.45" height="103.7" fill="#3e26a8"/>
<g clip-path="url(#cd)">
<path d="M349,198 L518.5,198 L518.5,204 C518.4,210 518,215 517,220 C516,226 514.5,231 512,236.7 C510,241 508,244.5 505.8,247 C503,250 499,253 495.5,255.2 C493,257.5 491,260.5 489.3,263.5 L488.5,265.5 L408,266 L349,266 Z" fill="url(#gdhalo2)" filter="url(#b05)"/>
<path d="M421,218 L517.4,218 L517,220 C518.4,210 518,215 517,220 C516,226 514.5,231 512,236.7 C510,241 508,244.5 505.8,247 C503,250 499,253 495.5,255.2 C493,257.5 491,260.5 489.3,263.5 L488.5,265.5 L410,265.5 L412,250 Z" fill="url(#gdreg)" opacity="0.62" filter="url(#b1)"/>
<path d="M424,226 L513,226" stroke="#4a62f2" stroke-width="7" opacity="0.55" fill="none" filter="url(#b2)"/>
<path d="M372,213.5 L421,213.3 C430,214 436,215 441.8,216 C449,219 454,221.5 458.3,224.3 C464,229 468,233 470.7,236.7 C474,241 476.5,246 478.5,252 C480,257 481.5,262 483,265.5 L408.8,265.5 C405,263 404,261 402.6,259.3 C400,254 398,249 396.4,244.9 C393,238 391,233 388,228.4 C384,222 380,217.5 372,213.5 Z" fill="url(#gdfan)" opacity="0.88" filter="url(#b1)"/>
<path d="M396.0,243 L508.0,243" stroke="url(#gdstripe)" stroke-width="1.1" opacity="0.25" fill="none" filter="url(#b05)"/>
<path d="M397.5,246 L505.1,246" stroke="url(#gdstripe)" stroke-width="1.1" opacity="0.34" fill="none" filter="url(#b05)"/>
<path d="M399.0,249 L502.3,249" stroke="url(#gdstripe)" stroke-width="1.1" opacity="0.43" fill="none" filter="url(#b05)"/>
<path d="M400.5,252 L499.4,252" stroke="url(#gdstripe)" stroke-width="1.1" opacity="0.52" fill="none" filter="url(#b05)"/>
<path d="M401.8,254.5 L497.1,254.5" stroke="url(#gdstripe)" stroke-width="1.1" opacity="0.61" fill="none" filter="url(#b05)"/>
<path d="M403.0,257 L494.7,257" stroke="url(#gdstripe)" stroke-width="1.1" opacity="0.70" fill="none" filter="url(#b05)"/>
<path d="M404.2,259.5 L492.3,259.5" stroke="url(#gdstripe)" stroke-width="1.1" opacity="0.79" fill="none" filter="url(#b05)"/>
<path d="M405.5,262 L489.9,262" stroke="url(#gdstripe)" stroke-width="1.1" opacity="0.88" fill="none" filter="url(#b05)"/>
<path d="M353,214.6 C355,213.6 357,213.2 360,213.2 L421,213.2 C430,213.8 436,214.8 441.8,216 C446,217.3 450,219 454,221.3" fill="none" stroke="url(#gdglow)" stroke-width="8" stroke-linecap="round" stroke-linejoin="round" opacity="0.8" filter="url(#b2)"/>
<path d="M349,219 C349.5,216.5 352,214 359,213.2" fill="none" stroke="#4a7cf8" stroke-width="2.8" stroke-linecap="round" stroke-linejoin="round" opacity="0.6" filter="url(#b1)"/>
<path d="M349,219 C349.5,216.5 352,214 359,213.2" fill="none" stroke="#40a0e8" stroke-width="1.1" stroke-linecap="round" stroke-linejoin="round" opacity="0.5" filter="url(#b05)"/>
<path d="M353,214.6 C355,213.6 357,213.2 360,213.2 L421,213.2 C430,213.8 436,214.8 441.8,216 C446,217.3 450,219 454,221.3" fill="none" stroke="url(#gdm)" stroke-width="3.4" stroke-linecap="round" stroke-linejoin="round" opacity="0.95" filter="url(#b1)"/>
<path d="M353,214.6 C355,213.6 357,213.2 360,213.2 L421,213.2 C430,213.8 436,214.8 441.8,216 C446,217.3 450,219 454,221.3" fill="none" stroke="url(#gdm2)" stroke-width="1.8" stroke-linecap="round" stroke-linejoin="round" opacity="1" filter="url(#b05)"/>
<path d="M353,214.6 C355,213.6 357,213.2 360,213.2 L421,213.2 C430,213.8 436,214.8 441.8,216 C446,217.3 450,219 454,221.3" fill="none" stroke="url(#gdm3)" stroke-width="0.9" stroke-linecap="round" stroke-linejoin="round" opacity="1" filter="url(#b05)"/>
<path d="M421,213.2 C430,213.8 436,214.8 441.8,216 C449,218.5 454,221.3 458.3,224.3 C464,228.5 468,233 470.7,236.7 C474,241 476.5,246 478.5,252 C480,257 481.5,262 483,265.5" fill="none" stroke="#4a7cf8" stroke-width="3.2" stroke-linecap="round" stroke-linejoin="round" opacity="0.5" filter="url(#b1)"/>
<path d="M421,213.2 C430,213.8 436,214.8 441.8,216 C449,218.5 454,221.3 458.3,224.3 C464,228.5 468,233 470.7,236.7 C474,241 476.5,246 478.5,252 C480,257 481.5,262 483,265.5" fill="none" stroke="url(#gdu)" stroke-width="1.3" stroke-linecap="round" stroke-linejoin="round" opacity="0.45" filter="url(#b05)"/>
<path d="M372,213.6 C380,216 385,222 388,228.4 C391,234 394,240 396.4,244.9 C398.5,250 400.5,255 402.6,259.3 C404.5,262.5 406.5,264.5 408.8,265.5" fill="none" stroke="#4840d8" stroke-width="10" stroke-linecap="round" stroke-linejoin="round" opacity="0.55" filter="url(#b3)"/>
<path d="M372,213.6 C380,216 385,222 388,228.4 C391,234 394,240 396.4,244.9 C398.5,250 400.5,255 402.6,259.3 C404.5,262.5 406.5,264.5 408.8,265.5" fill="none" stroke="#4a7cf8" stroke-width="3.4" stroke-linecap="round" stroke-linejoin="round" opacity="0.6" filter="url(#b1)"/>
<path d="M372,213.6 C380,216 385,222 388,228.4 C391,234 394,240 396.4,244.9 C398.5,250 400.5,255 402.6,259.3 C404.5,262.5 406.5,264.5 408.8,265.5" fill="none" stroke="url(#gdu)" stroke-width="1.3" stroke-linecap="round" stroke-linejoin="round" opacity="0.45" filter="url(#b05)"/>
<path d="M407,265.7 L490,265.7" fill="none" stroke="#4a7cf8" stroke-width="3.4" stroke-linecap="round" stroke-linejoin="round" opacity="0.8" filter="url(#b1)"/>
<path d="M407,265.7 L490,265.7" fill="none" stroke="#3cb0e8" stroke-width="1.4" stroke-linecap="round" stroke-linejoin="round" opacity="0.9" filter="url(#b05)"/>
<path d="M518.5,197 L518.5,204 C518.4,210 518,215 517,220 C516,226 514.5,231 512,236.7 C510,241 508,244.5 505.8,247 C503,250 499,253 495.5,255.2 C493,257.5 491,260.5 489.3,263.5 L488.5,265.5" fill="none" stroke="url(#gdright)" stroke-width="4" stroke-linecap="round" stroke-linejoin="round" opacity="0.7" filter="url(#b1)"/>
<path d="M518.5,197 L518.5,204 C518.4,210 518,215 517,220 C516,226 514.5,231 512,236.7 C510,241 508,244.5 505.8,247 C503,250 499,253 495.5,255.2 C493,257.5 491,260.5 489.3,263.5 L488.5,265.5" fill="none" stroke="url(#gdright)" stroke-width="1.3" stroke-linecap="round" stroke-linejoin="round" opacity="0.55" filter="url(#b05)"/>
</g>
<text x="56.5" y="114.5" font-size="11" text-anchor="middle" ><tspan font-size="14" dy="1">−</tspan><tspan dy="-1">1500</tspan></text>
<text x="86.2" y="114.5" font-size="11" text-anchor="middle" ><tspan font-size="14" dy="1">−</tspan><tspan dy="-1">1000</tspan></text>
<text x="116.5" y="114.5" font-size="11" text-anchor="middle" ><tspan font-size="14" dy="1">−</tspan><tspan dy="-1">500</tspan></text>
<text x="145.8" y="114.5" font-size="11" text-anchor="middle" >0</text>
<text x="176.3" y="114.5" font-size="11" text-anchor="middle" >500</text>
<text x="206.3" y="114.5" font-size="11" text-anchor="middle" >1000</text>
<text x="236.3" y="114.5" font-size="11" text-anchor="middle" >1500</text>
<text x="28.5" y="104.60000000000001" font-size="11" text-anchor="middle" >0</text>
<text x="29.4" y="71.60000000000001" font-size="11" text-anchor="middle" >20</text>
<text x="29.4" y="38.6" font-size="11" text-anchor="middle" >40</text>
<text x="146" y="130.5" font-size="12" text-anchor="middle" >Azimuth Frequency (Hz)</text>
<text transform="translate(18.7,52.8) rotate(-90)" font-size="12" text-anchor="middle">Range (Samples)</text>
<text x="138.8" y="151.7" font-size="12.5" text-anchor="middle">(<tspan font-weight="bold">a</tspan>)</text>
<text x="323.2" y="114.5" font-size="11" text-anchor="middle" ><tspan font-size="14" dy="1">−</tspan><tspan dy="-1">500</tspan></text>
<text x="352.5" y="114.5" font-size="11" text-anchor="middle" >0</text>
<text x="383" y="114.5" font-size="11" text-anchor="middle" >500</text>
<text x="413" y="114.5" font-size="11" text-anchor="middle" >1000</text>
<text x="443" y="114.5" font-size="11" text-anchor="middle" >1500</text>
<text x="473" y="114.5" font-size="11" text-anchor="middle" >2000</text>
<text x="502.5" y="114.5" font-size="11" text-anchor="middle" >2500</text>
<text x="305.6" y="104.7" font-size="11" text-anchor="middle" >0</text>
<text x="303" y="77.7" font-size="11" text-anchor="middle" >50</text>
<text x="304.4" y="50.400000000000006" font-size="11" text-anchor="middle" >100</text>
<text x="304.4" y="22.9" font-size="11" text-anchor="middle" >150</text>
<text x="423.5" y="130.5" font-size="12" text-anchor="middle" >Azimuth Frequency (Hz)</text>
<text transform="translate(290.3,52.3) rotate(-90)" font-size="12" text-anchor="middle">Range (Samples)</text>
<text x="416" y="151.7" font-size="12.5" text-anchor="middle">(<tspan font-weight="bold">b</tspan>)</text>
<text x="72.7" y="300.8" font-size="11" text-anchor="middle" >1000</text>
<text x="103.9" y="300.8" font-size="11" text-anchor="middle" >1500</text>
<text x="135.4" y="300.8" font-size="11" text-anchor="middle" >2000</text>
<text x="166.6" y="300.8" font-size="11" text-anchor="middle" >2500</text>
<text x="198" y="300.8" font-size="11" text-anchor="middle" >3000</text>
<text x="229.5" y="300.8" font-size="11" text-anchor="middle" >3500</text>
<text x="261" y="300.8" font-size="11" text-anchor="middle" >4000</text>
<text x="29" y="290.9" font-size="11" text-anchor="middle" >0</text>
<text x="29" y="260.9" font-size="11" text-anchor="middle" >100</text>
<text x="29" y="231.1" font-size="11" text-anchor="middle" >200</text>
<text x="29" y="201.29999999999998" font-size="11" text-anchor="middle" >300</text>
<text x="155" y="316.1" font-size="12.6" text-anchor="middle" >Azimuth Frequency (Hz)</text>
<text transform="translate(14.3,233.7) rotate(-90)" font-size="12.7" text-anchor="middle">Range (Samples)</text>
<text x="138.8" y="335.6" font-size="12.5" text-anchor="middle">(<tspan font-weight="bold">c</tspan>)</text>
<text x="344.5" y="300.8" font-size="11" text-anchor="middle" >2000</text>
<text x="376" y="300.8" font-size="11" text-anchor="middle" >2500</text>
<text x="407.5" y="300.8" font-size="11" text-anchor="middle" >3000</text>
<text x="439" y="300.8" font-size="11" text-anchor="middle" >3500</text>
<text x="470.5" y="300.8" font-size="11" text-anchor="middle" >4000</text>
<text x="502" y="300.8" font-size="11" text-anchor="middle" >4500</text>
<text x="533.5" y="300.8" font-size="11" text-anchor="middle" >5000</text>
<text x="305.5" y="290.5" font-size="11" text-anchor="middle" >0</text>
<text x="305.5" y="258.5" font-size="11" text-anchor="middle" >200</text>
<text x="305.5" y="226.5" font-size="11" text-anchor="middle" >400</text>
<text x="305.5" y="194.5" font-size="11" text-anchor="middle" >600</text>
<text x="431.4" y="316.1" font-size="12.6" text-anchor="middle" >Azimuth Frequency (Hz)</text>
<text transform="translate(291.3,233.7) rotate(-90)" font-size="12.7" text-anchor="middle">Range (Samples)</text>
<text x="416.2" y="335.6" font-size="12.5" text-anchor="middle">(<tspan font-weight="bold">d</tspan>)</text>
</svg>
</body></html>
